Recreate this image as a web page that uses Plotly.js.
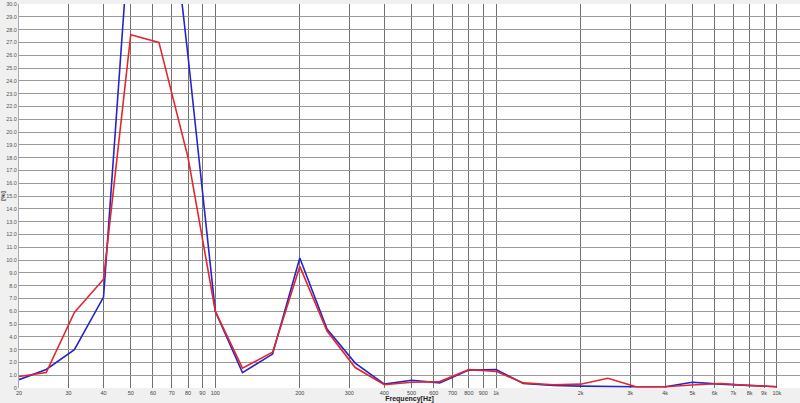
<!DOCTYPE html>
<html>
<head>
<meta charset="utf-8">
<script src="https://cdn.plot.ly/plotly-3.0.1.min.js"></script>
<style>html,body{margin:0;padding:0;background:#f0f0f0;}#chart{width:800px;height:403px;}</style>
</head>
<body>
<div id="chart"></div>
<script>
// 1/3-octave band centre frequencies (Hz)
var frequencies = [20, 25, 31.5, 40, 50, 63, 80, 100, 125, 160, 200, 250, 315, 400, 500, 630, 800, 1000, 1250, 1600, 2000, 2500, 3150, 4000, 5000, 6300, 8000, 10000];
// Blue series (%)
var blueValues = [0.65, 1.45, 3.0, 7.1, 37.0, 46.0, 25.9, 6.0, 1.2, 2.65, 10.15, 4.6, 1.95, 0.3, 0.6, 0.4, 1.4, 1.45, 0.35, 0.2, 0.15, 0.1, 0.1, 0.1, 0.45, 0.3, 0.2, 0.1];
// Red series (%)
var redValues = [0.9, 1.2, 5.9, 8.5, 27.6, 27.0, 18.0, 6.0, 1.55, 2.8, 9.5, 4.45, 1.6, 0.25, 0.45, 0.5, 1.45, 1.3, 0.4, 0.25, 0.3, 0.76, 0.1, 0.1, 0.23, 0.35, 0.2, 0.1];
// Axis ticks
var xTickVals = [20, 30, 40, 50, 60, 70, 80, 90, 100, 200, 300, 400, 500, 600, 700, 800, 900, 1000, 2000, 3000, 4000, 5000, 6000, 7000, 8000, 9000, 10000];
var xTickText = ["20", "30", "40", "50", "60", "70", "80", "90", "100", "200", "300", "400", "500", "600", "700", "800", "900", "1k", "2k", "3k", "4k", "5k", "6k", "7k", "8k", "9k", "10k"];
var yTickVals = [];
var yTickText = [];
for (var i = 0; i <= 30; i++) { yTickVals.push(i); yTickText.push(i === 0 ? "0" : i.toFixed(1)); }

var traces = [
  {x: frequencies, y: blueValues, type: "scatter", mode: "lines", line: {color: "#2525c8", width: 1.6}, name: "blue"},
  {x: frequencies, y: redValues, type: "scatter", mode: "lines", line: {color: "#e3262e", width: 1.6}, name: "red"}
];

var layout = {
  width: 800, height: 403,
  margin: {l: 19, r: 0, t: 4, b: 15, pad: 0},
  paper_bgcolor: "#f0f0f0",
  plot_bgcolor: "#ffffff",
  showlegend: false,
  font: {family: "Liberation Sans, Arial, sans-serif", color: "#444", size: 5},
  xaxis: {
    type: "log",
    range: [Math.log10(20), Math.log10(20) + 781 / 280.8],
    tickvals: xTickVals, ticktext: xTickText,
    tickfont: {size: 5.5, color: "#444"},
    showgrid: true, gridcolor: "#707070", gridwidth: 1,
    zeroline: false, showline: false, ticks: "", ticklen: 0,
    automargin: false,
    title: {text: "<b>Frequency[Hz]</b>", font: {size: 7, color: "#222"}, standoff: 1}
  },
  yaxis: {
    range: [0, 30],
    tickvals: yTickVals, ticktext: yTickText,
    tickfont: {size: 5.5, color: "#555"},
    showgrid: true, gridcolor: "#9a9a9a", gridwidth: 1,
    zeroline: false, showline: true, linecolor: "#aaaaaa", ticks: "", ticklen: 0,
    automargin: false,
    title: {text: "<b>[%]</b>", font: {size: 6, color: "#333"}, standoff: 1}
  }
};

Plotly.newPlot("chart", traces, layout, {displayModeBar: false, staticPlot: true});
</script>
</body>
</html>
